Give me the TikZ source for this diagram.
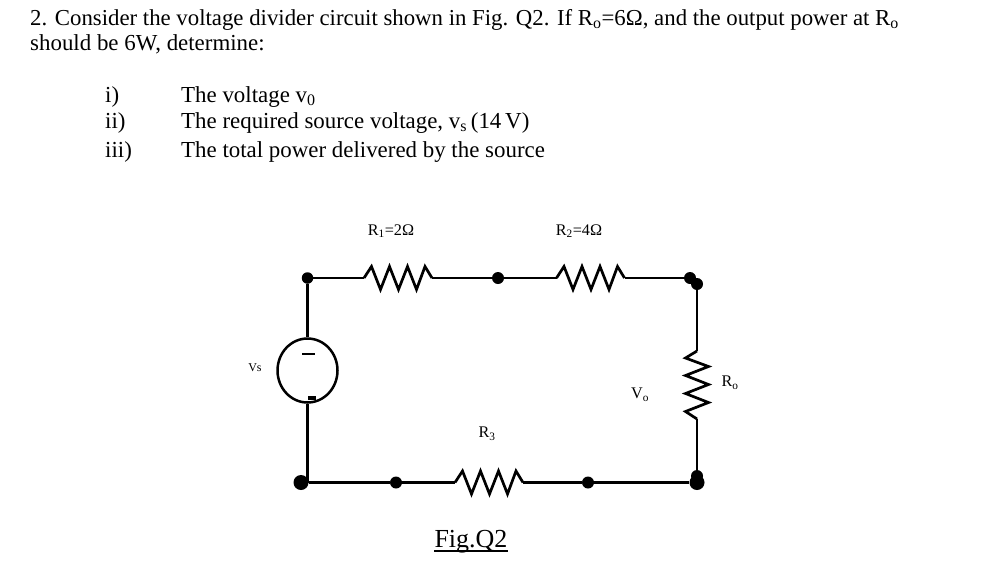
\documentclass[tikz,border=0pt]{standalone}
\usepackage{fontspec}
\setmainfont{Liberation Serif}
\usetikzlibrary{positioning, shapes.geometric}

\tikzset{
    wire/.style = {line width=2.5pt},
    heavy/.style = {line width=3.4pt},
    dot/.style = {circle, fill=black, inner sep=0pt, minimum size=12pt},
    bigdot/.style = {circle, fill=black, inner sep=0pt, minimum size=15pt},
    txt/.style = {inner sep=0pt, anchor=base west, font=\fontsize{22.9pt}{24pt}\selectfont},
    lbl/.style = {inner sep=0pt, font=\fontsize{16.2pt}{17pt}\selectfont},
    pics/hres/.style = {code = {
        \coordinate (-a) at (0,0);
        \coordinate (-b) at (68,0);
        \draw[line width=2.7pt] (-a) -- (7.5,-11.5) -- (16.5,11.5) -- (25.5,-11.5) -- (34.5,11.5)
            -- (43.5,-11.5) -- (52.5,11.5) -- (61,-11.5) -- (-b);
    }}
}

\begin{document}
\begin{tikzpicture}[x=1pt, y=-1pt]
        \useasboundingbox (0,0) rectangle (984,568);

        \node [txt, font=\fontsize{22.8pt}{24pt}\selectfont] (line1) at (30,25) {2. Consider the voltage divider circuit shown in Fig. Q2. If R\textsubscript{o}=6Ω, and the output power at R\textsubscript{o}};
        \node [txt] (line2) at (30,50) {should be 6W, determine:};
        \node [txt] (item1) at (105,102) {i)};
        \node [txt] (item2) at (105,128) {ii)};
        \node [txt] (item3) at (105,157) {iii)};
        \node [txt] (text1) at (181,102) {The voltage v\textsubscript{0}};
        \node [txt] (text2) at (181,128) {The required source voltage, v\textsubscript{s}\,(14\,V)};
        \node [txt] (text3) at (181,157) {The total power delivered by the source};

        \node [dot, minimum size=11.5pt] (n1) at (307.5,278) {};
        \node [dot, right of = n1, node distance=190.5pt] (n2) {};
        \node [dot, right of = n2, node distance=192pt] (n3) {};
        \node [dot] (n4) at (697,284) {};
        \node [dot] (n5) at (697,476) {};
        \node [bigdot] (n6) at (697,482.5) {};
        \node [dot] (n7) at (588,482.5) {};
        \node [dot] (n8) at (396,482.5) {};
        \node [bigdot] (n9) at (301,482.5) {};
        \coordinate (corner) at (307.5,482.5);

        \pic (r1) at (364,278) {hres};
        \pic (r2) at (556.5,278) {hres};
        \pic (r3) at (455,482.5) {hres};
        \pic [rotate=90] (ro) at (697,419) {hres};

        \node [ellipse, draw, wire, inner sep=0pt, minimum width=60pt, minimum height=64pt] (vs) at (307.5,370.5) {};
        \node [inner sep=0pt, minimum width=13pt, minimum height=2.8pt, fill=black] (plus) at (308,354) {};
        \node [inner sep=0pt, minimum width=8pt, minimum height=3.2pt, fill=black] (minus) at (312,398) {};

        \draw[wire] (n1) -- (r1-a);
        \draw[wire] (r1-b) -- (n2);
        \draw[wire] (n2) -- (r2-a);
        \draw[wire] (r2-b) -- (n3);
        \draw[wire] (n4) -- (ro-b);
        \draw[wire] (ro-a) -- (n5);
        \draw[wire] (n6) -- (n7);
        \draw[heavy] (n7) -- (r3-b);
        \draw[heavy] (r3-a) -- (n8);
        \draw[heavy] (n8) -- (n9);
        \draw[wire] (n1) -- (vs);
        \draw[wire] (vs) -- (corner);

        \node [lbl] (lr1) at (391,231) {R\textsubscript{1}=2Ω};
        \node [lbl] (lr2) at (579,231) {R\textsubscript{2}=4Ω};
        \node [lbl] (lr3) at (487,434) {R\textsubscript{3}};
        \node [lbl] (lro) at (730,383) {R\textsubscript{o}};
        \node [lbl] (lvo) at (640,395) {V\textsubscript{o}};
        \node [inner sep=0pt, font=\fontsize{12pt}{13pt}\selectfont] (lvs) at (255,368) {Vs};
        \node [inner sep=0pt, anchor=base, font=\fontsize{26pt}{28pt}\selectfont] (fig) at (471,547) {Fig.Q2};
        \draw[line width=1.8pt] ([yshift=-4pt]fig.base west) -- ([yshift=-4pt]fig.base east);
    \end{tikzpicture}
\end{document}
